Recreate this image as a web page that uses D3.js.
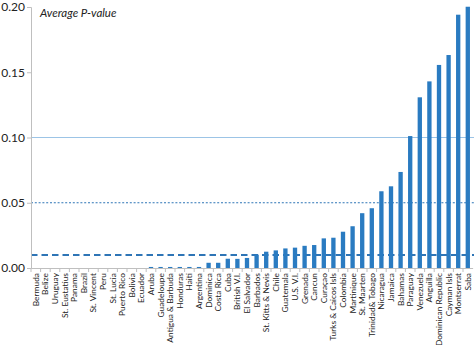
<!DOCTYPE html>
<html>
<head>
<meta charset="utf-8">
<script src="https://cdn.jsdelivr.net/npm/d3@7"></script>
<style>
  html, body { margin: 0; padding: 0; background: #fff; }
  svg { display: block; }
  text { font-family: Lato, "Open Sans", sans-serif; }
</style>
</head>
<body>
<svg id="chart" width="474" height="345"></svg>
<script>
// Countries ordered by average p-value
const countries = [
  "Bermuda", "Belize", "Uruguay", "St. Eustatius", "Panama", "Brazil", "St. Vincent",
  "Peru", "St. Lucia", "Puerto Rico", "Bolivia", "Ecuador", "Aruba", "Guadeloupe",
  "Antigua & Barbuda", "Honduras", "Haiti", "Argentina", "Dominica", "Costa Rica",
  "Cuba", "British V.I.", "El Salvador", "Barbados", "St. Kitts & Nevis", "Chile",
  "Guatemala", "U.S. V.I.", "Grenada", "Cancun", "Curaçao", "Turks & Caicos Isls",
  "Colombia", "Martinique", "St. Maarten", "Trinidad& Tobago", "Nicaragua", "Jamaica",
  "Bahamas", "Paraguay", "Venezuela", "Anguilla", "Dominican Republic", "Cayman Isls",
  "Montserrat", "Saba"
];

const pValues = [
  0, 0, 0, 0, 0, 0, 0,
  0, 0, 0, 0, 0, 0.0008, 0.0008,
  0.0008, 0.0008, 0.0008, 0.0008, 0.004, 0.004,
  0.0071, 0.007, 0.0077, 0.0102, 0.0125, 0.0135,
  0.015, 0.0156, 0.017, 0.0176, 0.0227, 0.0232,
  0.0278, 0.032, 0.042, 0.0458, 0.0588, 0.0626,
  0.0736, 0.1011, 0.1308, 0.143, 0.1556, 0.1632,
  0.1941, 0.2002
];

// Significance thresholds drawn across the plot
const thresholds = [0.10, 0.05, 0.01];
const yTicks = [0.00, 0.05, 0.10, 0.15, 0.20];

const svg = d3.select("#chart");
const margin = { left: 31, right: 0, top: 7, bottom: 77 };
const W = 474, H = 345;

const x = d3.scaleBand()
  .domain(countries)
  .range([margin.left, margin.left + 9.6 * countries.length])
  .paddingInner(0.55)
  .paddingOuter(0.275);

const y = d3.scaleLinear()
  .domain([0, 0.20])
  .range([H - margin.bottom, margin.top]);

// threshold lines
const lineStyles = {
  0.10: { stroke: "#9cc4e6", width: 1, dash: null },
  0.05: { stroke: "#2e75b6", width: 1.2, dash: "2,1.8" },
  0.01: { stroke: "#2e75b6", width: 2, dash: "6.5,4" }
};
svg.append("g").selectAll("line")
  .data(thresholds)
  .join("line")
  .attr("x1", margin.left)
  .attr("x2", W)
  .attr("y1", d => y(d))
  .attr("y2", d => y(d))
  .attr("stroke", d => lineStyles[d].stroke)
  .attr("stroke-width", d => lineStyles[d].width)
  .attr("stroke-dasharray", d => lineStyles[d].dash);

// bars
svg.append("g").selectAll("rect")
  .data(countries.map((c, i) => ({ c, v: pValues[i] })))
  .join("rect")
  .attr("x", d => x(d.c))
  .attr("width", x.bandwidth())
  .attr("y", d => y(d.v))
  .attr("height", d => y(0) - y(d.v))
  .attr("fill", "#2a7bc1");

// y axis
const yAxis = svg.append("g")
  .attr("transform", `translate(${margin.left},0)`)
  .call(d3.axisLeft(y).tickValues(yTicks).tickFormat(d3.format(".2f")).tickSize(4).tickPadding(2));
yAxis.select(".domain").attr("stroke", "#bfbfbf");
yAxis.selectAll(".tick line").attr("stroke", "#bfbfbf");
yAxis.selectAll(".tick text")
  .attr("font-size", 12)
  .attr("fill", "#222")
  .attr("font-family", "Lato, sans-serif");

// x axis
const xAxis = svg.append("g")
  .attr("transform", `translate(0,${y(0)})`)
  .call(d3.axisBottom(x).tickSizeOuter(0).tickSize(0));
xAxis.select(".domain").attr("stroke", "#bfbfbf");
// tick marks between categories
xAxis.selectAll(".sep")
  .data(countries)
  .join("line")
  .attr("class", "sep")
  .attr("x1", d => x(d) - x.step() * x.paddingInner() / 2)
  .attr("x2", d => x(d) - x.step() * x.paddingInner() / 2)
  .attr("y1", 0)
  .attr("y2", 4)
  .attr("stroke", "#bfbfbf");
xAxis.selectAll(".tick text")
  .attr("font-size", 8.4)
  .attr("fill", "#222")
  .attr("transform", "rotate(-90)")
  .attr("text-anchor", "end")
  .attr("x", -5)
  .attr("y", 0)
  .attr("dy", "0.35em");

// chart label
svg.append("text")
  .attr("x", 40)
  .attr("y", 17)
  .attr("font-size", 11.5)
  .attr("font-style", "italic")
  .attr("fill", "#222")
  .text("Average P-value");
</script>
</body>
</html>
